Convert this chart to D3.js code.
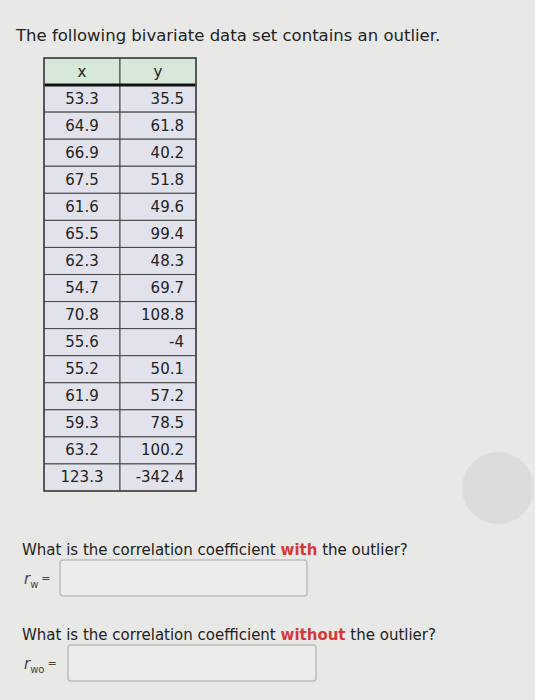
<!DOCTYPE html>
<html>
<head>
<meta charset="utf-8">
<script src="https://cdn.jsdelivr.net/npm/d3@7"></script>
<style>
body { margin: 0; background: #e8e8e6; }
</style>
</head>
<body>
<div id="chart"></div>
<script>
// table values
const xValues = ["53.3", "64.9", "66.9", "67.5", "61.6", "65.5", "62.3", "54.7", "70.8", "55.6", "55.2", "61.9", "59.3", "63.2", "123.3"]
const yValues = ["35.5", "61.8", "40.2", "51.8", "49.6", "99.4", "48.3", "69.7", "108.8", "-4", "50.1", "57.2", "78.5", "100.2", "-342.4"]
const headers = ["x", "y"]

const svgWidth = 535
const svgHeight = 700
const font = "'DejaVu Sans', Verdana, sans-serif"

let svg = d3.select("#chart").append("svg")
	.attr("width", svgWidth)
	.attr("height", svgHeight)

svg.append("rect").attr("width", svgWidth).attr("height", svgHeight).attr("fill", "#e8e8e6")

// faint grey blob on the right
svg.append("circle").attr("cx", 498).attr("cy", 488).attr("r", 36).attr("fill", "#dcdcdc")

svg.append("text")
	.attr("x", 16).attr("y", 41)
	.attr("font-family", font).attr("font-size", 16.5).attr("fill", "#222")
	.text("The following bivariate data set contains an outlier.")

// table scales
let colScale = d3.scaleBand().domain([0, 1]).range([44, 196])
let rowScale = d3.scaleBand().domain(d3.range(xValues.length + 1)).range([58, 491])

let table = svg.append("g")

let rows = xValues.map((x, i) => [x, yValues[i]])

// header
table.selectAll(".hcell").data(headers).enter().append("rect")
	.attr("x", (d, i) => colScale(i)).attr("y", rowScale(0))
	.attr("width", colScale.bandwidth()).attr("height", rowScale.bandwidth())
	.attr("fill", "#d6e8da").attr("stroke", "#444").attr("stroke-width", 1)

table.selectAll(".htext").data(headers).enter().append("text")
	.attr("x", (d, i) => colScale(i) + colScale.bandwidth() / 2)
	.attr("y", rowScale(0) + rowScale.bandwidth() / 2 + 5)
	.attr("text-anchor", "middle").attr("font-family", font).attr("font-size", 15).attr("fill", "#222")
	.text(d => d)

// body cells
rows.forEach((r, i) => {
	r.forEach((v, j) => {
		table.append("rect")
			.attr("x", colScale(j)).attr("y", rowScale(i + 1))
			.attr("width", colScale.bandwidth()).attr("height", rowScale.bandwidth())
			.attr("fill", "#e2e2ec").attr("stroke", "#444").attr("stroke-width", 1)
		table.append("text")
			.attr("x", j === 0 ? colScale(j) + colScale.bandwidth() / 2 : colScale(j) + colScale.bandwidth() - 12)
			.attr("y", rowScale(i + 1) + rowScale.bandwidth() / 2 + 5)
			.attr("text-anchor", j === 0 ? "middle" : "end")
			.attr("font-family", font).attr("font-size", 15).attr("fill", "#222")
			.text(v)
	})
})

// thick line under header
table.append("line")
	.attr("x1", 44).attr("x2", 196)
	.attr("y1", rowScale(1)).attr("y2", rowScale(1))
	.attr("stroke", "#111").attr("stroke-width", 3)

table.append("rect").attr("x", 44).attr("y", 58).attr("width", 152).attr("height", 433)
	.attr("fill", "none").attr("stroke", "#444").attr("stroke-width", 1.5)

// questions
function question(y, pre, red, post, sub, boxX, boxY, boxW) {
	let t = svg.append("text").attr("x", 22).attr("y", y)
		.attr("font-family", font).attr("font-size", 15).attr("fill", "#222")
	t.append("tspan").text(pre)
	t.append("tspan").attr("fill", "#d23a3a").attr("font-weight", "bold").text(red)
	t.append("tspan").text(post)

	let r = svg.append("text").attr("x", 24).attr("y", boxY + 24)
		.attr("font-family", font).attr("font-size", 15).attr("fill", "#444")
	r.append("tspan").attr("font-style", "italic").text("r")
	r.append("tspan").attr("font-size", 10).attr("dy", 4).text(sub)
	r.append("tspan").attr("font-size", 11).attr("dy", -6).attr("dx", 3).text("=")

	svg.append("rect").attr("x", boxX).attr("y", boxY).attr("width", boxW).attr("height", 36)
		.attr("rx", 3).attr("fill", "#ececea").attr("stroke", "#bdbdbd").attr("stroke-width", 1.5)
}

question(555, "What is the correlation coefficient ", "with", " the outlier?", "w", 60, 560, 247)
question(640, "What is the correlation coefficient ", "without", " the outlier?", "wo", 68, 645, 248)
</script>
</body>
</html>
